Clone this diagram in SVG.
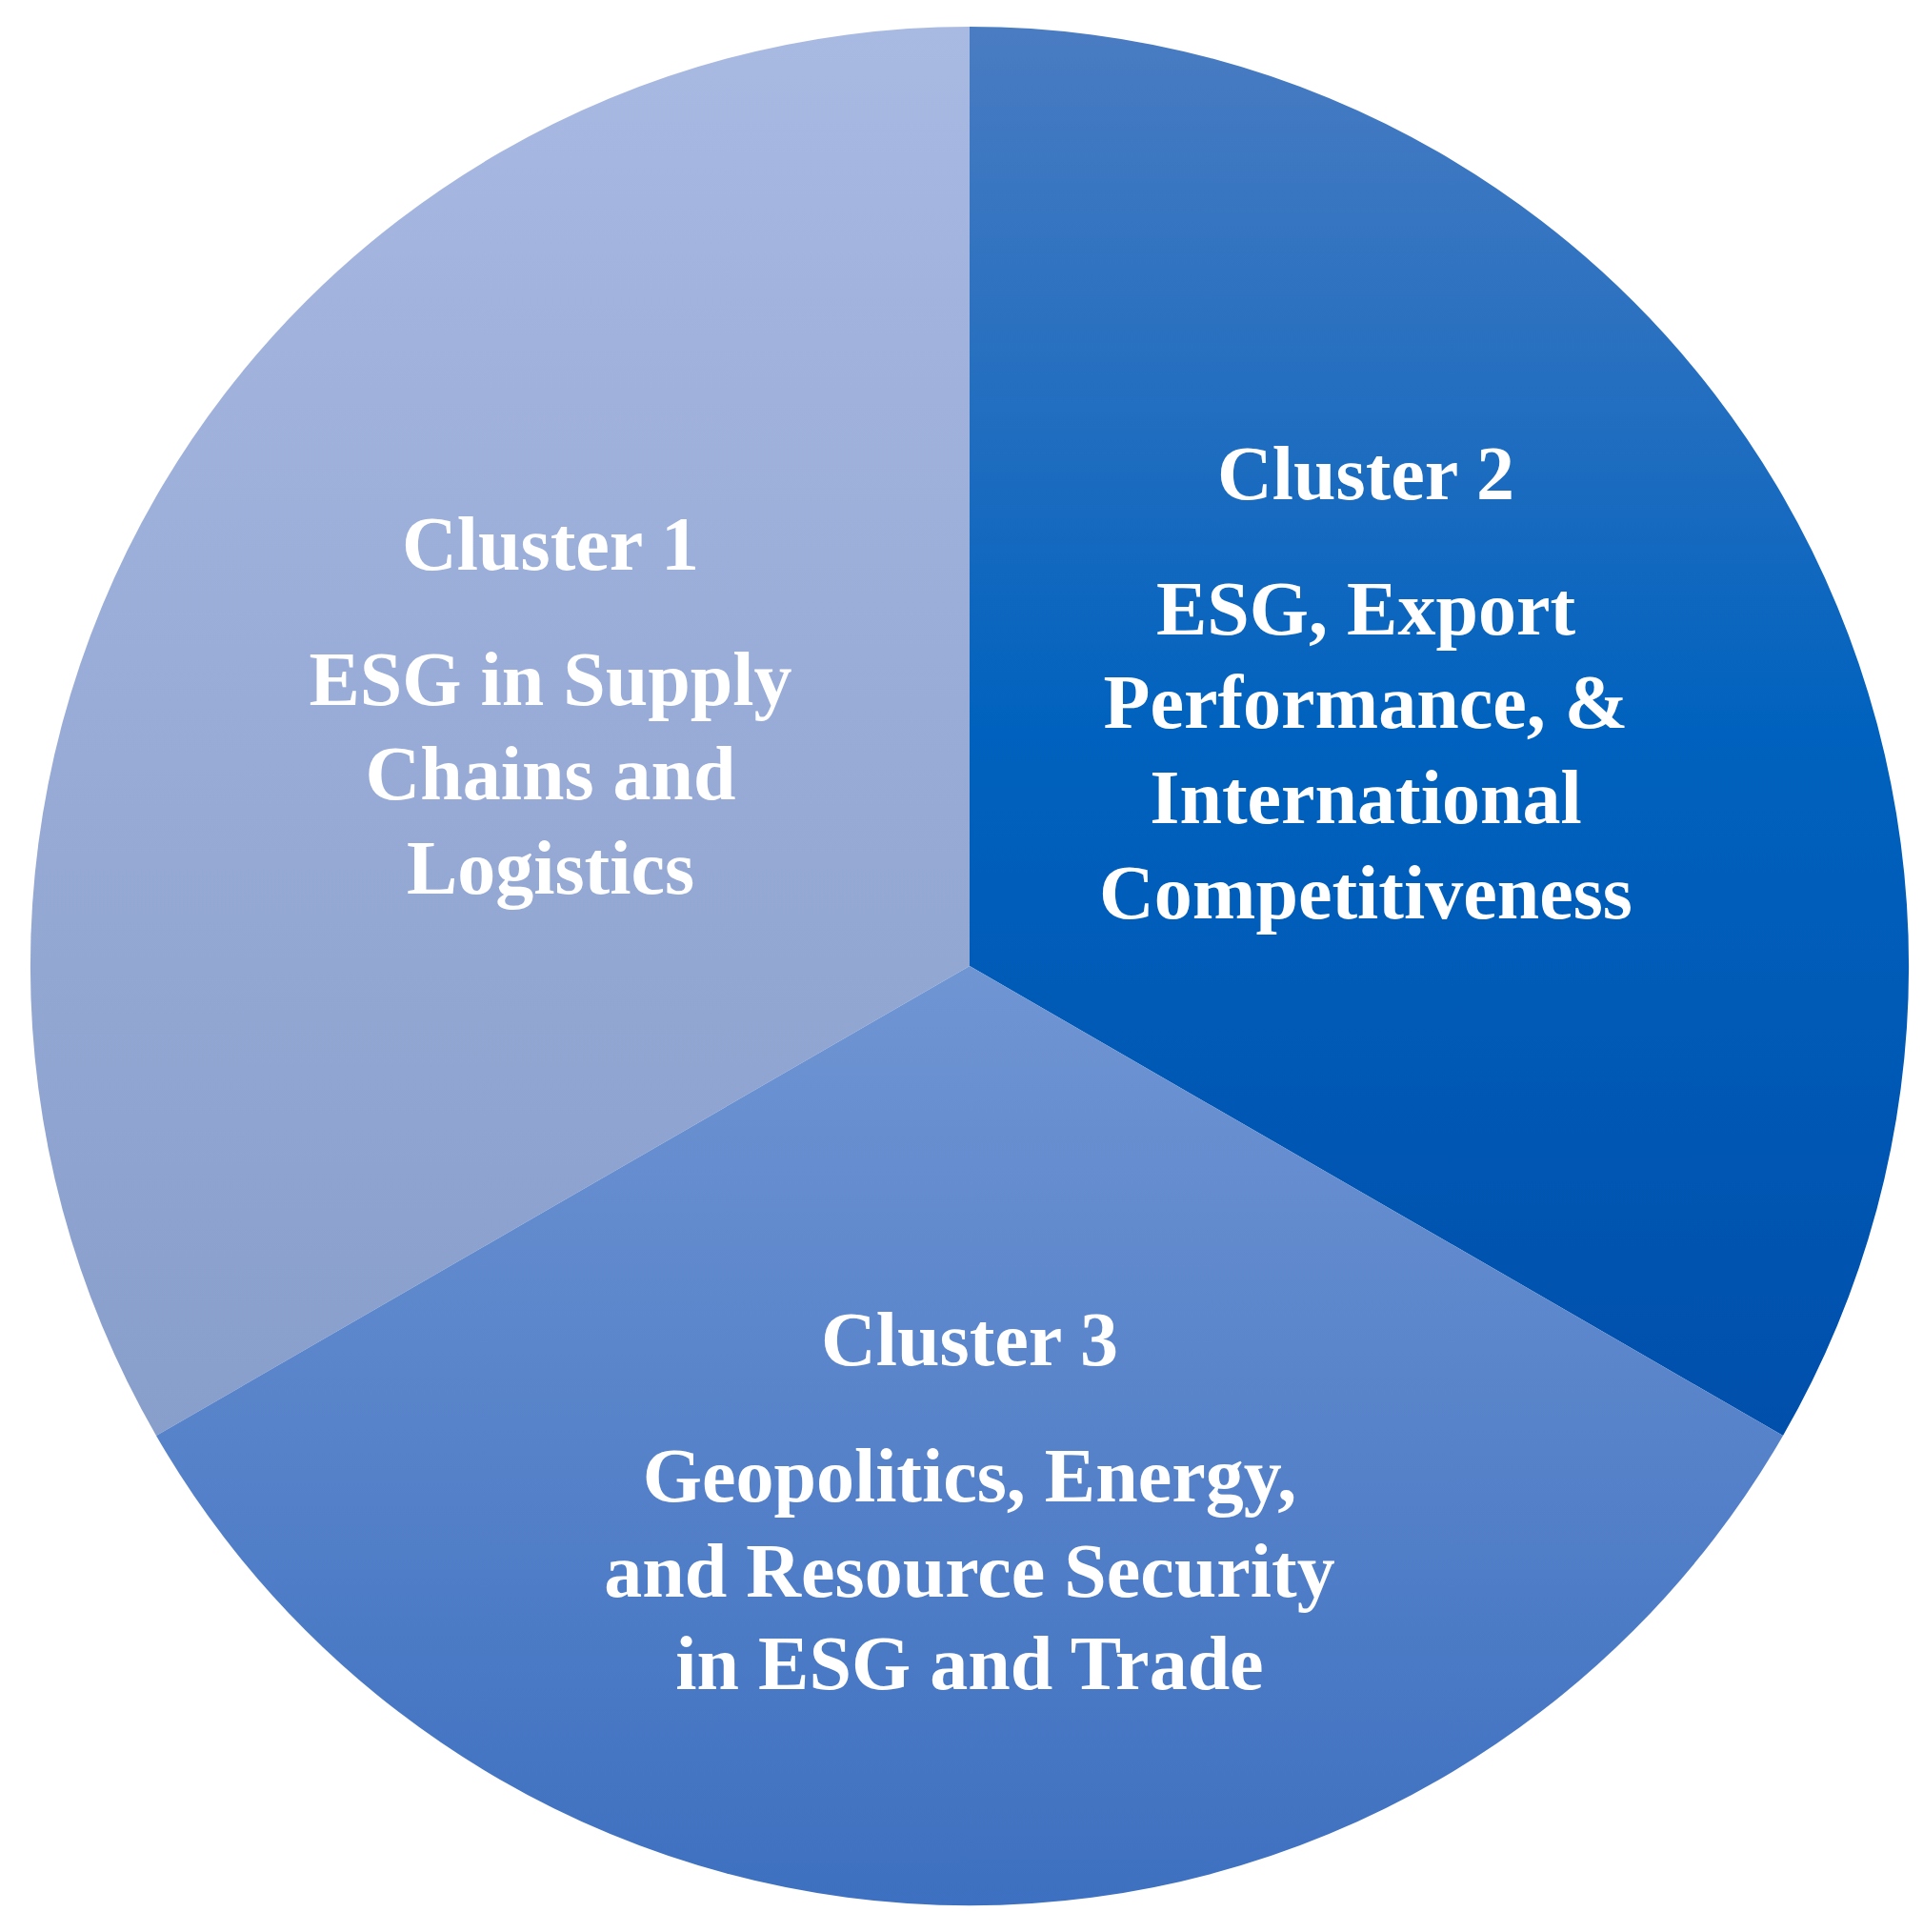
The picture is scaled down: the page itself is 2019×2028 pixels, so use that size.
<svg xmlns="http://www.w3.org/2000/svg" width="2019" height="2028" viewBox="0 0 2019 2028">
<defs>
<linearGradient id="g1" x1="0" y1="0" x2="0" y2="1" gradientUnits="objectBoundingBox"><stop offset="0" stop-color="#a8b9e2"/><stop offset="1" stop-color="#889ecb"/></linearGradient>
<linearGradient id="g2" x1="0" y1="0" x2="0" y2="1"><stop offset="0" stop-color="#4a7cc2"/><stop offset="0.5" stop-color="#0062be"/><stop offset="1" stop-color="#004fab"/></linearGradient>
<linearGradient id="g3" x1="0" y1="0" x2="0" y2="1"><stop offset="0" stop-color="#7095d3"/><stop offset="1" stop-color="#3d70c0"/></linearGradient>
<style>
text{font-family:"Liberation Serif","DejaVu Serif",serif;font-weight:bold;font-size:80px;fill:#fff;text-anchor:middle}
</style>
</defs>
<rect width="2019" height="2028" fill="#fff"/>
<g id="cluster1">
<path d="M1018 1014 L1018 28 A986 986 0 0 0 164 1507 Z" fill="url(#g1)"/>
<text x="578" y="598">Cluster 1</text>
<text x="578" y="740">ESG in Supply</text>
<text x="578" y="839">Chains and</text>
<text x="578" y="938">Logistics</text>
</g>
<g id="cluster2">
<path d="M1018 1014 L1018 28 A986 986 0 0 1 1872 1507 Z" fill="url(#g2)"/>
<text x="1434" y="524">Cluster 2</text>
<text x="1434" y="666">ESG, Export</text>
<text x="1434" y="764">Performance, &amp;</text>
<text x="1434" y="864">International</text>
<text x="1434" y="964">Competitiveness</text>
</g>
<g id="cluster3">
<path d="M1018 1014 L1872 1507 A986 986 0 0 1 164 1507 Z" fill="url(#g3)"/>
<text x="1018" y="1433">Cluster 3</text>
<text x="1018" y="1576">Geopolitics, Energy,</text>
<text x="1018" y="1676">and Resource Security</text>
<text x="1018" y="1773">in ESG and Trade</text>
</g>
<g id="connectors"/>
</svg>
